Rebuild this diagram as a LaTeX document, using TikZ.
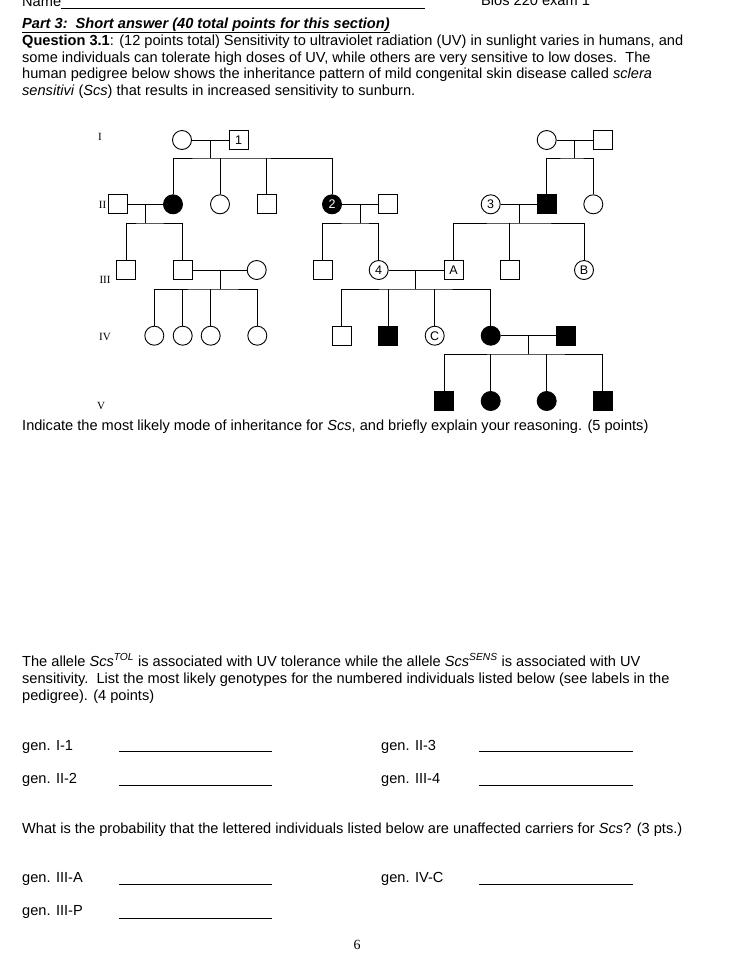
\documentclass[tikz,border=0pt]{standalone}
\usepackage{fontspec}
\setmainfont{Liberation Sans}
\newfontfamily\serifface{Liberation Serif}
\begin{document}
\begin{tikzpicture}[x=1pt,y=-1pt,
  txt/.style={anchor=base west,inner sep=0pt,font=\fontsize{14.6}{16}\selectfont},
  male/.style={draw,line width=0.9pt,minimum size=19pt,inner sep=0pt,font=\fontsize{12.5}{12.5}\selectfont},
  female/.style={circle,draw,line width=0.9pt,minimum size=19pt,inner sep=0pt,font=\fontsize{12.5}{12.5}\selectfont},
  aff/.style={fill=black,text=white},
  lnk/.style={line width=0.9pt},
  genlbl/.style={inner sep=0pt,font=\serifface\fontsize{11}{11}\selectfont},
  blank/.style={line width=0.8pt}
]
\useasboundingbox (0,0) rectangle (750,962);

% header
\node[txt] (name) at (22,6) {Name};
\draw[blank] (name.base east) ++(0,2.5) coordinate (nm1) -- (425,8.5);
\node[txt] (bios) at (481,5) {Bios 220 exam 1};
\node[txt] (p3) at (22,28) {\bfseries\itshape\underline{Part 3:\ \ Short answer (40 total points for this section)}};
\node[txt] (q1) at (22,45) {\textbf{Question 3.1}: (12 points total) Sensitivity to ultraviolet radiation (UV) in sunlight varies in humans, and};
\node[txt] (q2) at (22,62) {some individuals can tolerate high doses of UV, while others are very sensitive to low doses.\ \ The};
\node[txt] (q3) at (22,78) {human pedigree below shows the inheritance pattern of mild congenital skin disease called \textit{sclera}};
\node[txt] (q4) at (22,95) {\textit{sensitivi} (\textit{Scs}) that results in increased sensitivity to sunburn.};

% generation labels
\node[genlbl] (gI) at (100,137) {I};
\node[genlbl] (gII) at (102.5,205) {II};
\node[genlbl] (gIII) at (105,280) {III};
\node[genlbl] (gIV) at (105,337) {IV};
\node[genlbl] (gV) at (101,406) {V};

% generation I
\node[female] (Ia) at (182,140) {};
\node[male] (I1) at (238.5,140) {1};
\node[female] (Ib) at (546.7,140) {};
\node[male] (Ic) at (603,140) {};

% generation II
\node[male] (IIa) at (117.5,204.3) {};
\node[female,aff] (IIb) at (173,204.3) {};
\node[female] (IIc) at (220,204.3) {};
\node[male] (IId) at (266.7,204.3) {};
\node[female,aff] (II2) at (332,204.3) {2};
\node[male] (IIe) at (388,204.3) {};
\node[female] (II3) at (490.7,204.3) {3};
\node[male,aff] (IIf) at (546.7,204.3) {};
\node[female] (IIg) at (593.3,204.3) {};

% generation III
\node[male] (IIIa) at (126.4,270) {};
\node[male] (IIIb) at (182.5,270) {};
\node[female] (IIIc) at (256.7,270) {};
\node[male] (IIId) at (322.7,270) {};
\node[female] (III4) at (378.7,270) {4};
\node[male] (IIIA) at (453.5,270) {A};
\node[male] (IIIe) at (509.5,270) {};
\node[female] (IIIB) at (584,270) {B};

% generation IV
\node[female] (IVa) at (154.3,335.7) {};
\node[female] (IVb) at (182.7,335.7) {};
\node[female] (IVc) at (210.7,335.7) {};
\node[female] (IVd) at (257.3,335.7) {};
\node[male] (IVe) at (341.7,335.7) {};
\node[male,aff] (IVf) at (388.3,335.7) {};
\node[female] (IVC) at (434.7,335.7) {C};
\node[female,aff] (IVg) at (490.7,335.7) {};
\node[male,aff] (IVh) at (566,335.7) {};

% generation V
\node[male,aff] (Va) at (444,401) {};
\node[female,aff] (Vb) at (490.7,401) {};
\node[female,aff] (Vc) at (546.7,401) {};
\node[male,aff] (Vd) at (602.7,401) {};

% marriage points and sibship points
\coordinate (m1) at (210.7,140); \coordinate (s1) at (210.7,158);
\coordinate (m2) at (574,140);   \coordinate (s2) at (574,158);
\coordinate (m3) at (145.7,204.3); \coordinate (s3) at (145.7,223);
\coordinate (m4) at (360,204.3); \coordinate (s4) at (360,223);
\coordinate (m5) at (519,204.3); \coordinate (s5) at (519,223);
\coordinate (m6) at (220,270);   \coordinate (s6) at (220,289);
\coordinate (m7) at (415.7,270); \coordinate (s7) at (415.7,289);
\coordinate (m8) at (528.3,335.7); \coordinate (s8) at (528.3,354);

% family 1
\draw[lnk] (Ia) -- (I1);
\draw[lnk] (m1) -- (s1);
\draw[lnk] (IIb.north) |- (s1) -| (II2.north);
\draw[lnk] (IIc.north) -- (IIc.north |- s1);
\draw[lnk] (IId.north) -- (IId.north |- s1);
% family 2
\draw[lnk] (Ib) -- (Ic);
\draw[lnk] (m2) -- (s2);
\draw[lnk] (IIf.north) |- (s2) -| (IIg.north);
% family 3
\draw[lnk] (IIa) -- (IIb);
\draw[lnk] (m3) -- (s3);
\draw[lnk] (IIIa.north) |- (s3) -| (IIIb.north);
% family 4
\draw[lnk] (II2) -- (IIe);
\draw[lnk] (m4) -- (s4);
\draw[lnk] (IIId.north) |- (s4) -| (III4.north);
% family 5
\draw[lnk] (II3) -- (IIf);
\draw[lnk] (m5) -- (s5);
\draw[lnk] (IIIA.north) |- (s5) -| (IIIB.north);
\draw[lnk] (IIIe.north) -- (IIIe.north |- s5);
% family 6
\draw[lnk] (IIIb) -- (IIIc);
\draw[lnk] (m6) -- (s6);
\draw[lnk] (IVa.north) |- (s6) -| (IVd.north);
\draw[lnk] (IVb.north) -- (IVb.north |- s6);
\draw[lnk] (IVc.north) -- (IVc.north |- s6);
% family 7
\draw[lnk] (III4) -- (IIIA);
\draw[lnk] (m7) -- (s7);
\draw[lnk] (IVe.north) |- (s7) -| (IVg.north);
\draw[lnk] (IVf.north) -- (IVf.north |- s7);
\draw[lnk] (IVC.north) -- (IVC.north |- s7);
% family 8
\draw[lnk] (IVg) -- (IVh);
\draw[lnk] (m8) -- (s8);
\draw[lnk] (Va.north) |- (s8) -| (Vd.north);
\draw[lnk] (Vb.north) -- (Vb.north |- s8);
\draw[lnk] (Vc.north) -- (Vc.north |- s8);

% questions
\node[txt] (ind) at (22,430) {Indicate the most likely mode of inheritance for \textit{Scs}, and briefly explain your reasoning. (5 points)};
\node[txt] (al1) at (22,666) {The allele \textit{Scs}\textsuperscript{\textit{TOL}} is associated with UV tolerance while the allele \textit{Scs}\textsuperscript{\textit{SENS}} is associated with UV};
\node[txt] (al2) at (22,683) {sensitivity.\ \ List the most likely genotypes for the numbered individuals listed below (see labels in the};
\node[txt] (al3) at (22,700) {pedigree). (4 points)};

\node[txt] (g1) at (22,750) {gen. I-1};
\node[txt] (g2) at (381,750) {gen. II-3};
\node[txt] (g3) at (22,783) {gen. II-2};
\node[txt] (g4) at (381,783) {gen. III-4};
\draw[blank] (119,751.5) -- (272,751.5);
\draw[blank] (479,751.5) -- (633,751.5);
\draw[blank] (119,785) -- (272,785);
\draw[blank] (479,785) -- (633,785);

\node[txt] (wh) at (22,833) {What is the probability that the lettered individuals listed below are unaffected carriers for \textit{Scs}? (3 pts.)};

\node[txt] (g5) at (22,882) {gen. III-A};
\node[txt] (g6) at (381,882) {gen. IV-C};
\node[txt] (g7) at (22,915) {gen. III-P};
\draw[blank] (119,884.5) -- (272,884.5);
\draw[blank] (479,884.5) -- (633,884.5);
\draw[blank] (119,918) -- (272,918);

\node[anchor=base,inner sep=0pt,font=\serifface\fontsize{14}{14}\selectfont] (pg) at (357,949) {6};
\end{tikzpicture}
\end{document}
